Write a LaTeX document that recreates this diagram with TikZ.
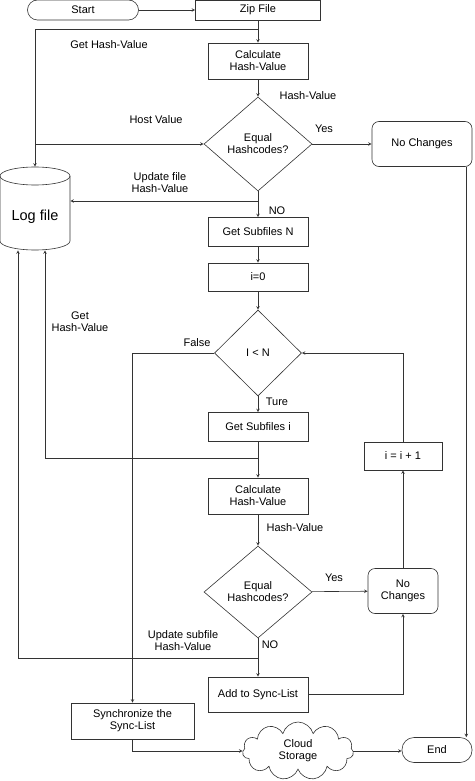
\documentclass[tikz,border=0pt]{standalone}
\usepackage{fontspec}
\setmainfont{Liberation Sans}
\usetikzlibrary{shapes.geometric, shapes.symbols, calc}

\tikzset{
	box/.style={draw=black!80, rectangle, minimum width=100pt, inner sep=1pt, align=center},
	roundbox/.style={box, rounded corners=7pt},
	terminal/.style={box, rounded corners=10pt, minimum height=20pt},
	decision/.style={draw=black!80, diamond, inner sep=0pt, align=center},
	lbl/.style={inner sep=0pt, align=center},
	arr/.style={draw=black!80, -stealth},
	ln/.style={draw=black!80}
}

\begin{document}
\begin{tikzpicture}[x=1pt, y=-1pt, line width=0.6pt, font=\fontsize{11}{12}\selectfont]
			\useasboundingbox (0,0) rectangle (474,781);
			
			\node[terminal, minimum width=111pt] (start) at (83,10) {Start};
			\node[box, minimum width=125pt, minimum height=20pt] (zip) at (258,10) {Zip File};
			\node[box, minimum height=36pt] (calc1) at (258,61) {Calculate\\Hash-Value};
			\node[decision, minimum width=108pt, minimum height=94pt] (eq1) at (258,144) {Equal\\Hashcodes?};
			\node[roundbox, minimum height=45pt] (nochg1) at (422,144) {No Changes};
			\node[box, minimum height=29pt] (getn) at (258,232) {Get Subfiles N};
			\node[box, minimum height=28pt] (izero) at (258,277) {i=0};
			\node[decision, minimum width=87pt, minimum height=86pt] (lessn) at (258,353) {I < N};
			\node[box, minimum height=29pt] (geti) at (258,427) {Get Subfiles i};
			\node[box, minimum width=78pt, minimum height=28pt] (incr) at (403,456) {i = i + 1};
			\node[box, minimum height=36pt] (calc2) at (258,496) {Calculate\\Hash-Value};
			\node[decision, minimum width=108pt, minimum height=92pt] (eq2) at (258,592) {Equal\\Hashcodes?};
			\node[roundbox, minimum width=70pt, minimum height=45pt] (nochg2) at (403,591) {No\\Changes};
			\node[box, minimum height=35pt] (add) at (258,694.5) {Add to Sync-List};
			\node[box, minimum width=123pt, minimum height=36pt] (sync) at (132.5,721) {Synchronize the\\Sync-List};
			\node[draw=black!80, cloud, cloud puffs=11, cloud ignores aspect, minimum width=111pt, minimum height=58pt, inner sep=0pt, align=center] (cloud) at (298,751) {Cloud\\Storage};
			\node[terminal, minimum width=70pt, minimum height=25pt, rounded corners=12pt] (end) at (437,750) {End};
			
			\node[inner sep=0pt, minimum width=70pt, minimum height=83pt] (log) at (35,208.5) {};
			\draw[ln] (0,176) -- (0,241) arc[start angle=180, end angle=0, x radius=35, y radius=9] -- (70,176);
			\draw[ln] (35,176) ellipse [x radius=35, y radius=9];
			\node[lbl, font=\fontsize{14.5}{16}\selectfont] (logtxt) at (35,217) {Log file};
			
			\node[lbl] (gethash1) at (109,45) {Get Hash-Value};
			\node[lbl] (host) at (156,120) {Host Value};
			\node[lbl] (hash1) at (308,96) {Hash-Value};
			\node[lbl] (yes1) at (324,129) {Yes};
			\node[lbl] (upd1) at (160,183) {Update file\\Hash-Value};
			\node[lbl] (no1) at (277,211) {NO};
			\node[lbl] (false) at (197,343) {False};
			\node[lbl] (ture) at (277,402) {Ture};
			\node[lbl] (gethash2) at (80,322) {Get\\Hash-Value};
			\node[lbl] (hash2) at (295,528) {Hash-Value};
			\node[lbl] (yes2) at (334,578) {Yes};
			\node[lbl] (upd2) at (183,641) {Update subfile\\Hash-Value};
			\node[lbl] (no2) at (270,645) {NO};
			
			\coordinate (j1) at (258,29);
			\coordinate (j2) at (258,201);
			\coordinate (j3) at (258,458);
			\coordinate (j4) at (258,658);
			\coordinate (h1) at (log.north |- eq1.west);
			
			\draw[arr] (start) -- (zip);
			\draw[ln] (zip) -- (j1);
			\draw[arr] (j1) -- (calc1);
			\draw[arr] (j1) -| (log.north);
			\draw[arr] (h1) -- (eq1.west);
			\draw[arr] (calc1) -- (eq1);
			\draw[arr] (eq1) -- (nochg1);
			\draw[arr] ([xshift=-6pt]nochg1.south east) -- ([xshift=-6pt]nochg1.south east |- end.north);
			\draw[ln] (eq1.south) -- (j2);
			\draw[arr] (j2) -- (getn);
			\draw[arr] (j2) -- (j2 -| log.east);
			\draw[arr] (getn) -- (izero);
			\draw[arr] (izero) -- (lessn);
			\draw[arr] (lessn.west) -| (sync.north);
			\draw[arr] (lessn) -- (geti);
			\draw[ln] (geti) -- (j3);
			\draw[arr] (j3) -- (calc2);
			\draw[arr] (j3) -| ([xshift=10pt]log.south);
			\draw[arr] (calc2) -- (eq2);
			\draw[arr] (eq2) -- (nochg2);
			\draw[arr] (nochg2) -- (incr);
			\draw[arr] (incr.north) |- (lessn.east);
			\draw[ln] (eq2.south) -- (j4);
			\draw[arr] (j4) -- (add);
			\draw[arr] (j4) -| ([xshift=-17pt]log.south);
			\draw[arr] (add.east) -| (nochg2.south);
			\draw[arr] (sync.south) |- (cloud.west);
			\draw[arr] (cloud.east) -- (cloud.east -| end.west);
		\end{tikzpicture}
\end{document}
